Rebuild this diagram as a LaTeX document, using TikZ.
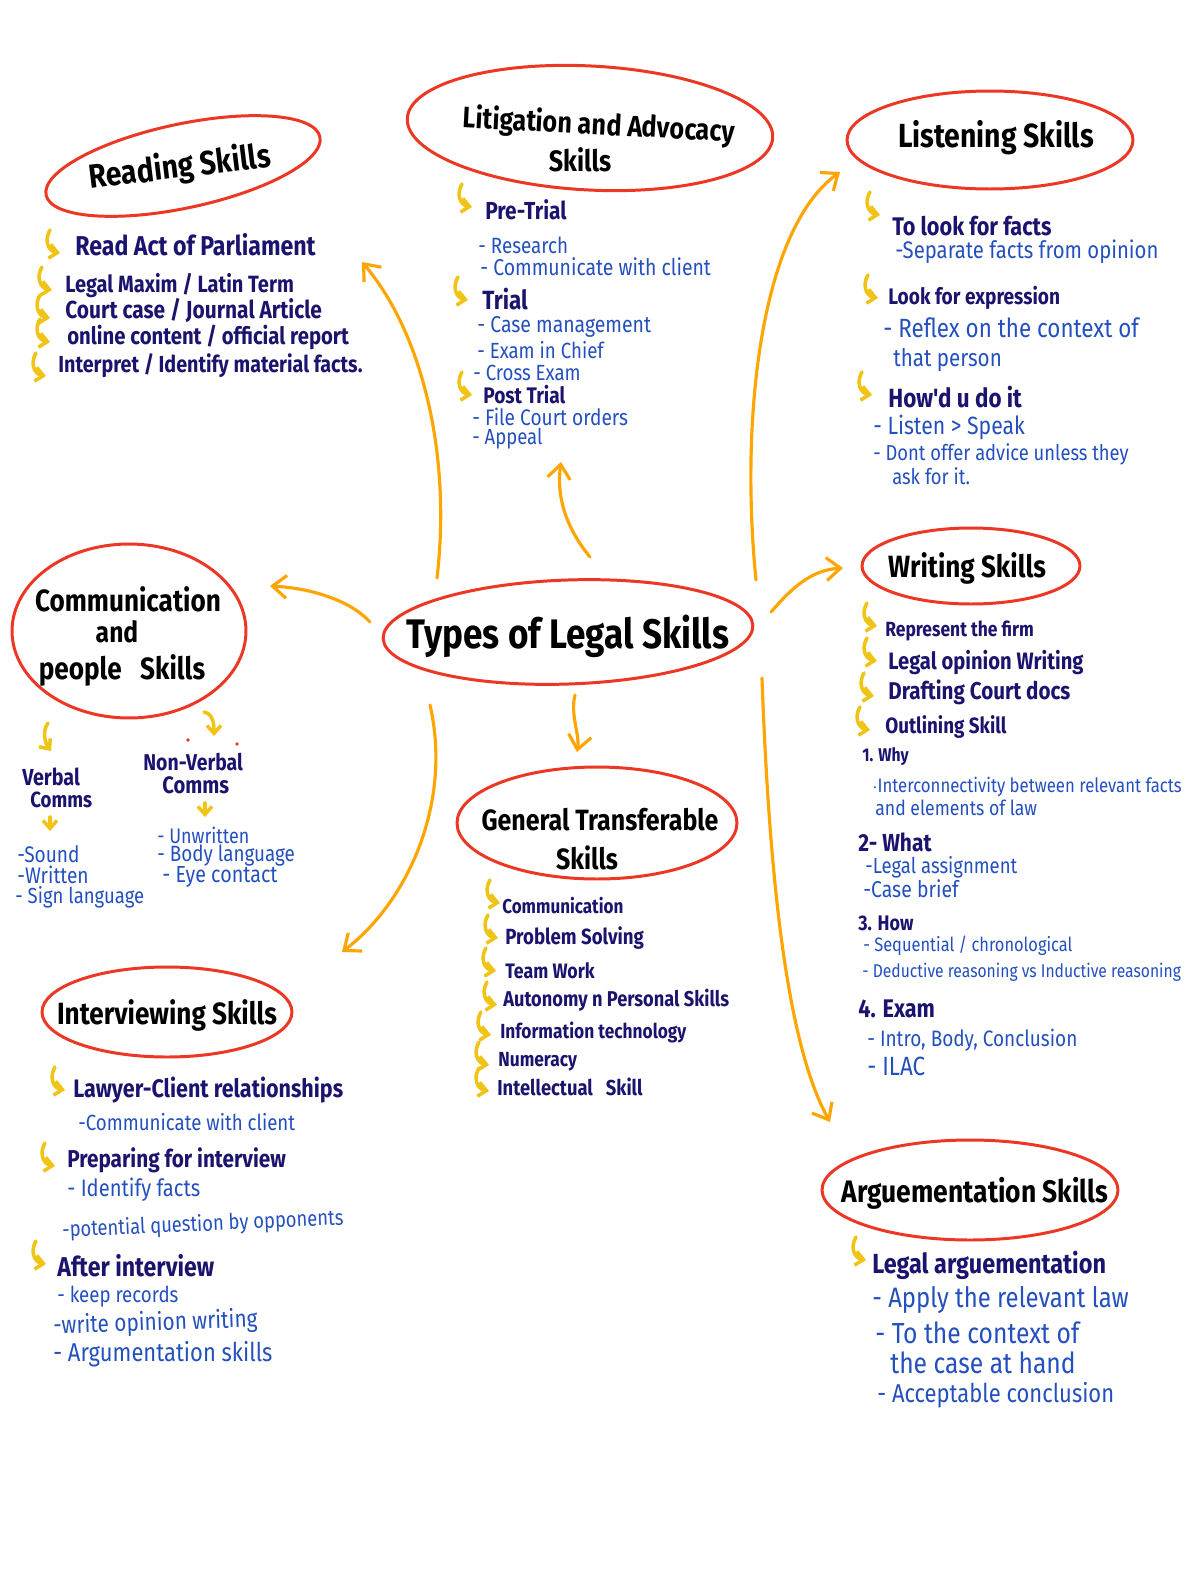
\documentclass[tikz,border=0pt]{standalone}
\usepackage{fontspec}
\newfontfamily\hand{Fira Sans}[FakeStretch=0.85]
\usetikzlibrary{shapes.geometric,arrows.meta}
\definecolor{ovalred}{HTML}{EB3723}
\definecolor{navy}{HTML}{1B146E}
\definecolor{subblue}{HTML}{2350BE}
\definecolor{hookyellow}{HTML}{F0C314}
\definecolor{linkorange}{HTML}{FFA500}
\tikzset{
  hkline/.style={draw=hookyellow, line width=2pt, line cap=round, -{Straight Barb[length=4.5pt,width=8pt,line width=2pt]}},
  hk/.pic={\draw[hkline] (0,-13) .. controls (-6,-3) and (-2,8) .. (10,10);},
  hkd/.pic={\draw[hkline] (0,-14) .. controls (-6,-6) and (-3,6) .. (3,14);},
  hkr/.pic={\draw[hkline] (-6,-12) .. controls (4,-10) and (4,2) .. (4,12);},
  dn/.pic={\draw[hkline] (0,-7) -- (0,7);},
}
\begin{document}
\begin{tikzpicture}[x=0.02cm,y=-0.02cm,
  oval/.style={ellipse, draw=ovalred, line width=1.7pt, inner sep=0pt},
  ttl/.style={inner sep=0pt, text=black, align=center, font=\hand\bfseries\fontsize{#1}{#1}\selectfont},
  itm/.style={anchor=west, inner sep=0pt, text=navy, font=\hand\bfseries\fontsize{#1}{#1}\selectfont},
  sub/.style={anchor=west, inner sep=0pt, text=subblue, font=\hand\fontsize{#1}{#1}\selectfont},
  link/.style={draw=linkorange, line width=1.8pt, line cap=round, -{Straight Barb[length=8pt,width=13pt,line width=1.8pt]}},
]
\useasboundingbox (0,0) rectangle (1200,1576);
\fill[white] (0,0) rectangle (1200,1576);

% ---------- centre ----------
\node[oval, minimum width=7.4cm, minimum height=2.08cm, rotate=2] (cen) at (568,632) {};
\node[ttl=23.5] (cent) at (568,636) {Types of Legal Skills};

% ---------- Reading ----------
\node[oval, minimum width=5.6cm, minimum height=1.68cm, rotate=12] (readO) at (183,166) {};
\node[ttl=19, rotate=7] (readT) at (180,168) {Reading Skills};
\node[itm=15.5] (r1) at (75,245) {Read Act of Parliament};
\node[itm=13.4] (r2) at (65,286) {Legal Maxim / Latin Term};
\node[itm=14] (r3) at (65,311) {Court case / Journal Article};
\node[itm=13.6] (r4) at (67,337) {online content / official report};
\node[itm=13.2] (r5) at (58,366) {Interpret / Identify material facts.};
\pic at (50,243) {hk};
\pic at (42,280) {hk};
\pic at (40,308) {hk};
\pic at (40,332) {hk};
\pic at (36,366) {hk};

% ---------- Litigation ----------
\node[oval, minimum width=7.32cm, minimum height=2.48cm, rotate=-3] (litO) at (590,128) {};
\node[ttl=16.8, rotate=-3] (litT1) at (599,126) {Litigation and Advocacy};
\node[ttl=16.8] (litT2) at (580,160) {Skills};
\node[itm=14] (l1) at (485,210) {Pre-Trial};
\node[sub=12.6] (l2) at (478,245) {- Research};
\node[sub=13] (l3) at (480,267) {- Communicate with client};
\node[itm=15] (l4) at (482,299) {Trial};
\node[sub=13] (l5) at (477,327) {- Case management};
\node[sub=12.5] (l6) at (477,350) {- Exam in Chief};
\node[sub=12.5] (l7) at (473,373) {- Cross Exam};
\node[itm=12.8] (l8) at (483,395) {Post Trial};
\node[sub=12.8] (l9) at (472,417) {- File Court orders};
\node[sub=12.4] (l10) at (472,439) {- Appeal};
\pic at (462,197) {hk};
\pic at (458,290) {hk};
\pic at (462,385) {hk};

% ---------- Listening ----------
\node[oval, minimum width=5.72cm, minimum height=1.96cm] (lisO) at (990,140) {};
\node[ttl=19] (lisT) at (996,138) {Listening Skills};
\node[itm=14.5] (s1) at (892,226) {To look for facts};
\node[sub=13.6] (s2) at (895,252) {-Separate facts from opinion};
\node[itm=12.8] (s3) at (888,298) {Look for expression};
\node[sub=15] (s4) at (883,328) {- Reflex on the context of};
\node[sub=13.8] (s5) at (893,360) {that person};
\node[itm=15] (s6) at (888,397) {How'd u do it};
\node[sub=14.2] (s7) at (873,427) {- Listen > Speak};
\node[sub=12.3] (s8) at (873,454) {- Dont offer advice unless they};
\node[sub=12.3] (s9) at (892,476) {ask for it.};
\pic at (870,205) {hk};
\pic at (868,288) {hk};
\pic at (862,385) {hk};

% ---------- Communication ----------
\node[oval, minimum width=4.68cm, minimum height=3.48cm] (comO) at (129,631) {};
\node[ttl=17.5] (comT1) at (128,599) {Communication};
\node[ttl=16.5] (comT2) at (117,632) {and};
\node[ttl=17.5] (comT3) at (122,670) {people\hspace{0.6em}Skills};
\pic at (48,737) {hkd};
\pic at (210,724) {hkr};
\fill[ovalred] (188,740) circle (1.1pt);
\fill[ovalred] (237,744) circle (1.1pt);
\node[itm=13.2] (c1) at (22,777) {Verbal};
\node[itm=12.5] (c2) at (30,800) {Comms};
\pic at (50,824) {dn};
\node[sub=12.8] (c3) at (17,854) {-Sound};
\node[sub=12.8] (c4) at (17,875) {-Written};
\node[sub=12.4] (c5) at (15,897) {- Sign language};
\node[itm=13] (c6) at (143,762) {Non-Verbal};
\node[itm=13.5] (c7) at (162,785) {Comms};
\pic at (205,810) {dn};
\node[sub=12] (c8) at (157,835) {- Unwritten};
\node[sub=12.6] (c9) at (157,856) {- Body language};
\node[sub=13.2] (c10) at (162,877) {- Eye contact};

% ---------- Writing ----------
\node[oval, minimum width=4.36cm, minimum height=1.52cm] (wriO) at (971,566) {};
\node[ttl=17.5] (wriT) at (967,568) {Writing Skills};
\node[itm=11.7] (w1) at (885,631) {Represent the firm};
\node[itm=13.5] (w2) at (888,663) {Legal opinion Writing};
\node[itm=13.8] (w3) at (888,692) {Drafting Court docs};
\node[itm=12.6] (w4) at (885,727) {Outlining Skill};
\node[itm=10.5] (w5) at (862,757) {1. Why};
\node[sub=11.2] (w6) at (872,787) {$\cdot$Interconnectivity between relevant facts};
\node[sub=11.8] (w7) at (875,808) {and elements of law};
\node[itm=14] (w8) at (858,842) {2- What};
\node[sub=12.4] (w9) at (865,867) {-Legal assignment};
\node[sub=13] (w10) at (863,889) {-Case brief};
\node[itm=12] (w11) at (858,923) {3. How};
\node[sub=11] (w12) at (863,946) {- Sequential / chronological};
\node[sub=10.5] (w13) at (862,972) {- Deductive reasoning vs Inductive reasoning};
\node[itm=14.5] (w14) at (858,1009) {4. Exam};
\node[sub=12.7] (w15) at (867,1040) {- Intro, Body, Conclusion};
\node[sub=15] (w16) at (867,1066) {- ILAC};
\pic at (867,616) {hk};
\pic at (867,651) {hk};
\pic at (864,686) {hk};
\pic at (860,720) {hk};

% ---------- General Transferable ----------
\node[oval, minimum width=5.6cm, minimum height=2.24cm] (genO) at (597,823) {};
\node[ttl=16.7] (genT1) at (600,820) {General Transferable};
\node[ttl=16.7] (genT2) at (587,858) {Skills};
\node[itm=11.4] (g1) at (502,906) {Communication};
\node[itm=12.5] (g2) at (505,938) {Problem Solving};
\node[itm=11.9] (g3) at (505,971) {Team Work};
\node[itm=12.2] (g4) at (503,1000) {Autonomy n Personal Skills};
\node[itm=11.6] (g5) at (500,1032) {Information technology};
\node[itm=11.6] (g6) at (498,1062) {Numeracy};
\node[itm=12.3] (g7) at (497,1087) {Intellectual\hspace{0.6em}Skill};
\pic at (490,893) {hk};
\pic at (488,928) {hk};
\pic at (486,961) {hk};
\pic at (487,995) {hk};
\pic at (481,1025) {hk};
\pic at (479,1055) {hk};
\pic at (479,1081) {hk};

% ---------- Interviewing ----------
\node[oval, minimum width=5.0cm, minimum height=1.8cm] (intO) at (167,1012) {};
\node[ttl=17.5] (intT) at (167,1015) {Interviewing Skills};
\node[itm=14.4] (i1) at (73,1090) {Lawyer-Client relationships};
\node[sub=12.5] (i2) at (78,1122) {-Communicate with client};
\node[itm=13.9] (i3) at (67,1160) {Preparing for interview};
\node[sub=13.5] (i4) at (67,1190) {- Identify facts};
\node[sub=12.3, rotate=2.5] (i5) at (62,1231) {-potential question by opponents};
\node[itm=15.5] (i6) at (57,1266) {After interview};
\node[sub=12.5] (i7) at (57,1297) {- keep records};
\node[sub=13.9, rotate=2] (i8) at (53,1327) {-write opinion writing};
\node[sub=14.7] (i9) at (53,1354) {- Argumentation skills};
\pic at (55,1080) {hk};
\pic at (45,1156) {hk};
\pic at (36,1254) {hk};

% ---------- Argumentation ----------
\node[oval, minimum width=5.92cm, minimum height=2.0cm] (argO) at (970,1190) {};
\node[ttl=17.7] (argT) at (975,1193) {Arguementation Skills};
\node[itm=15.7] (a1) at (872,1265) {Legal arguementation};
\node[sub=16] (a2) at (872,1300) {- Apply the relevant law};
\node[sub=16.5] (a3) at (875,1333) {- To the context of};
\node[sub=16.5] (a4) at (890,1363) {the case at hand};
\node[sub=14.7] (a5) at (877,1395) {- Acceptable conclusion};
\pic at (856,1250) {hk};

% ---------- connectors ----------
\coordinate (e1s) at (437,578);  \coordinate (e1e) at (362,262);
\coordinate (e2s) at (590,557);  \coordinate (e2e) at (561,462);
\coordinate (e3s) at (756,580);  \coordinate (e3e) at (840,172);
\coordinate (e4s) at (370,622);  \coordinate (e4e) at (270,586);
\coordinate (e5s) at (771,612);  \coordinate (e5e) at (843,568);
\coordinate (e6s) at (575,695);  \coordinate (e6e) at (577,752);
\coordinate (e7s) at (430,705);  \coordinate (e7e) at (342,952);
\coordinate (e8s) at (762,678);  \coordinate (e8e) at (830,1122);
\draw[link] (e1s) .. controls (452,450) and (420,330) .. (e1e);
\draw[link] (e2s) .. controls (568,530) and (556,500) .. (e2e);
\draw[link] (e3s) .. controls (740,420) and (760,230) .. (e3e);
\draw[link] (e4s) .. controls (350,600) and (310,588) .. (e4e);
\draw[link] (e5s) .. controls (790,590) and (810,570) .. (e5e);
\draw[link] (e6s) .. controls (570,715) and (580,735) .. (e6e);
\draw[link] (e7s) .. controls (452,800) and (410,900) .. (e7e);
\draw[link] (e8s) .. controls (770,900) and (790,1050) .. (e8e);
\end{tikzpicture}
\end{document}
